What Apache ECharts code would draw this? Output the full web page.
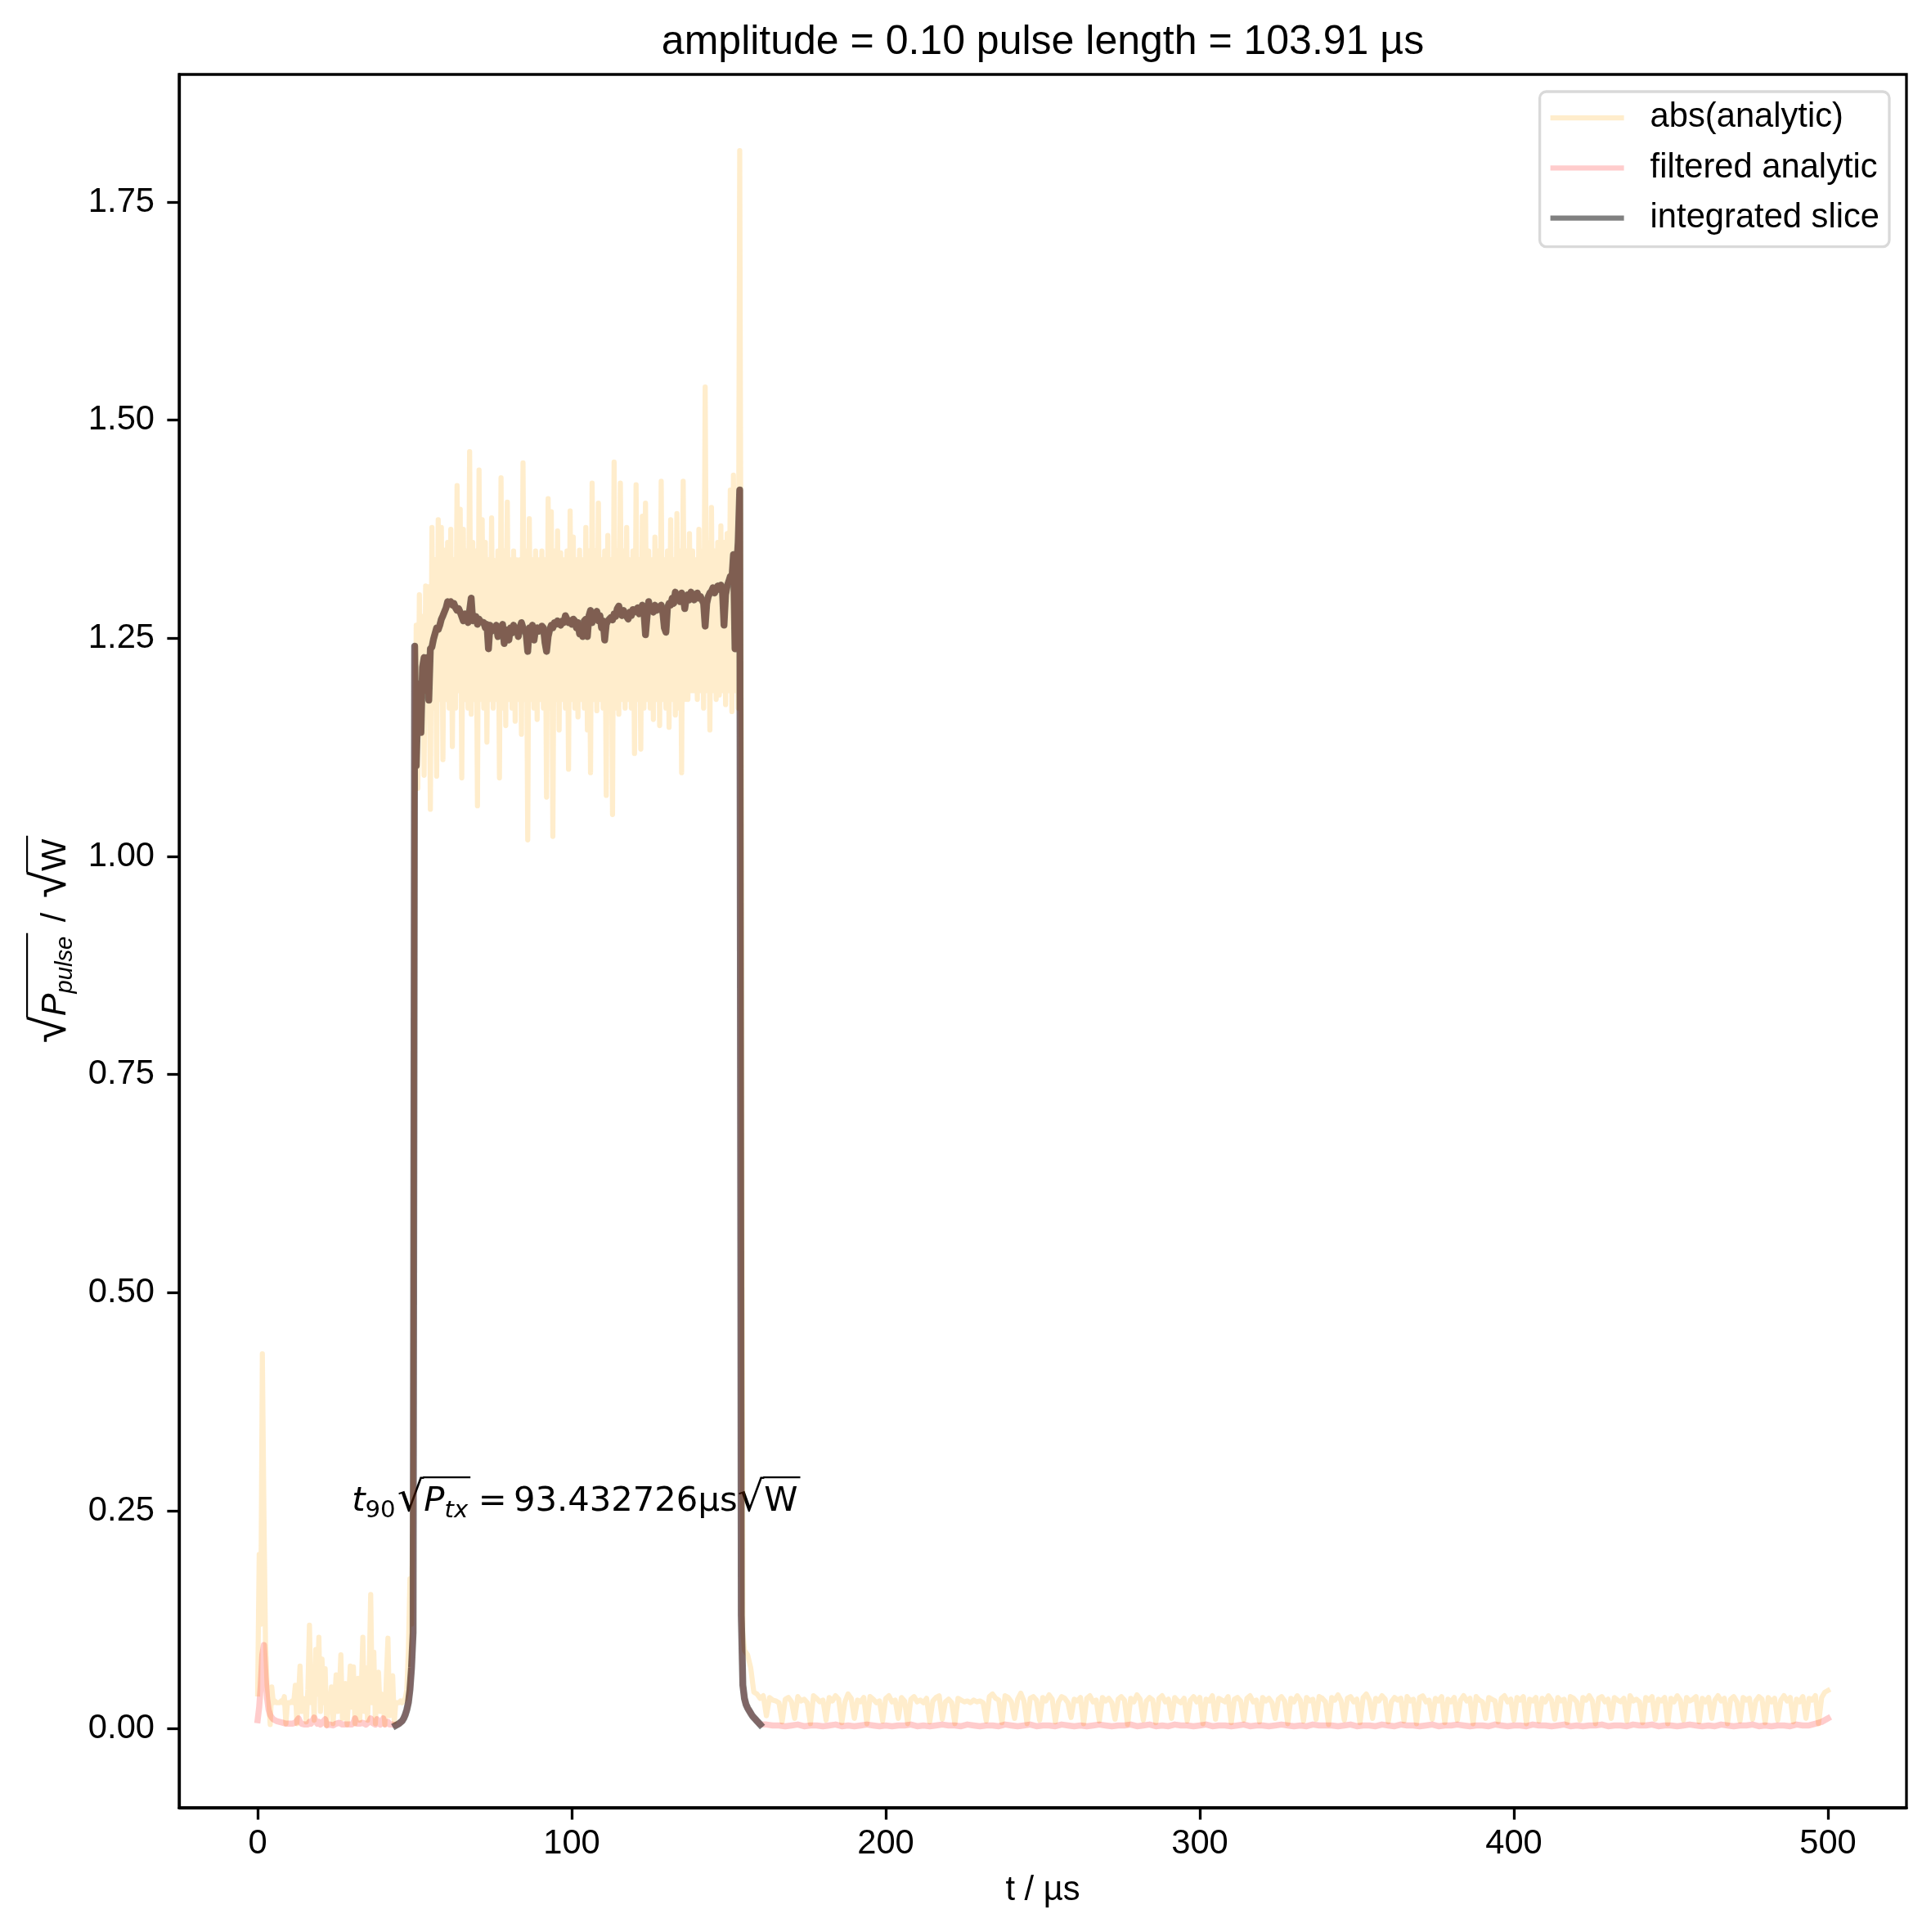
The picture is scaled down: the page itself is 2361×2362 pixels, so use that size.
<!DOCTYPE html>
<html><head><meta charset="utf-8">
<script src="https://cdn.jsdelivr.net/npm/echarts@6/dist/echarts.min.js"></script>
<style>html,body{margin:0;padding:0;background:#fff}#c{width:2361px;height:2362px}</style>
</head><body><div id="c"></div>
<script>
// ---------------- data ----------------
const xTicks = [0, 100, 200, 300, 400, 500];
const yTicks = [0, 0.25, 0.5, 0.75, 1.0, 1.25, 1.5, 1.75];

// abs(analytic), t = 0 .. 49.5 us, step 0.5
const absPreStart = 0, absPreStep = 0.5;
const absPre = [
0.04,0.20,0.12,0.43,0.25,0.10,0.05,0.035,0.005,0.048,
0.03,0.032,0.03,0.031,0.03,0.032,0.03,0.037,0.006,0.03,
0.031,0.03,0.032,0.03,0.05,0.006,0.035,0.072,0.02,0.035,
0.03,0.008,0.045,0.119,0.03,0.06,0.01,0.091,0.04,0.105,
0.02,0.08,0.03,0.069,0.004,0.035,0.03,0.048,0.006,0.03,
0.062,0.02,0.04,0.085,0.012,0.045,0.052,0.005,0.035,0.072,
0.025,0.071,0.006,0.04,0.058,0.01,0.045,0.105,0.02,0.07,
0.01,0.06,0.154,0.03,0.088,0.006,0.05,0.065,0.02,0.04,
0.03,0.005,0.06,0.104,0.015,0.05,0.061,0.008,0.03,0.031,
0.03,0.032,0.03,0.031,0.035,0.045,0.09,0.172,0.12,0.3
];
// abs(analytic), t = 50 .. 154.5 us, step 0.5
const absPulseStart = 50, absPulseStep = 0.5;
const absPulse = [
1.05,1.265,1.078,1.30,1.15,1.275,1.093,1.31,1.16,1.309,
1.054,1.377,1.17,1.34,1.092,1.386,1.18,1.377,1.111,1.351,
1.18,1.36,1.17,1.375,1.126,1.34,1.17,1.425,1.19,1.398,
1.09,1.375,1.18,1.35,1.17,1.464,1.163,1.36,1.18,1.35,
1.058,1.443,1.18,1.386,1.17,1.36,1.131,1.34,1.18,1.388,
1.17,1.339,1.18,1.35,1.09,1.434,1.17,1.35,1.15,1.406,
1.18,1.34,1.17,1.35,1.155,1.34,1.18,1.34,1.14,1.451,
1.18,1.35,1.019,1.387,1.18,1.34,1.17,1.35,1.157,1.34,
1.18,1.35,1.17,1.34,1.068,1.41,1.17,1.395,1.023,1.35,
1.18,1.373,1.145,1.348,1.18,1.34,1.17,1.35,1.10,1.396,
1.18,1.366,1.17,1.34,1.16,1.351,1.18,1.34,1.17,1.377,
1.145,1.35,1.096,1.428,1.18,1.35,1.167,1.405,1.18,1.34,
1.17,1.35,1.07,1.368,1.18,1.34,1.048,1.452,1.17,1.35,
1.163,1.428,1.18,1.35,1.17,1.377,1.18,1.34,1.17,1.35,
1.118,1.426,1.18,1.34,1.123,1.39,1.17,1.405,1.18,1.35,
1.17,1.34,1.157,1.366,1.18,1.35,1.15,1.43,1.18,1.34,
1.17,1.35,1.148,1.386,1.18,1.34,1.162,1.393,1.17,1.35,
1.096,1.43,1.18,1.35,1.18,1.37,1.19,1.35,1.19,1.34,
1.18,1.375,1.19,1.35,1.17,1.538,1.19,1.36,1.145,1.40,
1.19,1.35,1.18,1.36,1.185,1.379,1.19,1.36,1.174,1.37,
1.19,1.42,1.166,1.437,1.19,1.40,1.17,1.809,1.17,0.11
];
// abs(analytic), t = 155 .. 500 us, step 1
const absPostStart = 155, absPostStep = 1;
const absPost = [
0.09,0.085,0.07,0.042,0.04,0.035,0.038,0.015,0.036,0.033,
0.032,0.03,0.008,0.034,0.036,0.031,0.012,0.037,0.032,0.034,
0.03,0.006,0.038,0.035,0.031,0.033,0.01,0.036,0.032,0.038,
0.034,0.007,0.031,0.04,0.035,0.012,0.033,0.031,0.036,0.006,
0.037,0.034,0.03,0.032,0.009,0.035,0.038,0.031,0.033,0.012,
0.036,0.032,0.006,0.034,0.037,0.031,0.033,0.03,0.035,0.008,
0.032,0.036,0.038,0.011,0.031,0.034,0.03,0.006,0.035,0.033,
0.031,0.032,0.03,0.033,0.031,0.032,0.03,0.009,0.037,0.04,
0.035,0.033,0.007,0.038,0.036,0.031,0.012,0.034,0.041,0.032,
0.006,0.035,0.037,0.033,0.01,0.036,0.032,0.039,0.034,0.008,
0.031,0.037,0.035,0.03,0.013,0.034,0.032,0.036,0.006,0.035,
0.038,0.031,0.033,0.009,0.036,0.032,0.035,0.03,0.011,0.034,
0.037,0.033,0.005,0.035,0.031,0.039,0.034,0.01,0.032,0.036,
0.033,0.007,0.035,0.038,0.031,0.034,0.012,0.036,0.032,0.03,
0.035,0.009,0.033,0.037,0.031,0.036,0.006,0.034,0.032,0.038,
0.011,0.035,0.033,0.031,0.037,0.007,0.034,0.036,0.032,0.01,
0.035,0.038,0.031,0.033,0.008,0.036,0.032,0.035,0.03,0.012,
0.034,0.037,0.032,0.006,0.035,0.031,0.038,0.033,0.009,0.036,
0.032,0.034,0.011,0.037,0.035,0.031,0.005,0.036,0.033,0.039,
0.032,0.01,0.035,0.037,0.031,0.034,0.007,0.036,0.04,0.033,
0.012,0.035,0.032,0.038,0.034,0.008,0.031,0.036,0.033,0.035,
0.009,0.037,0.032,0.034,0.006,0.036,0.038,0.031,0.033,0.011,
0.035,0.032,0.037,0.007,0.034,0.031,0.036,0.01,0.033,0.038,
0.032,0.035,0.006,0.037,0.033,0.031,0.012,0.036,0.034,0.032,
0.008,0.035,0.038,0.031,0.034,0.01,0.036,0.033,0.037,0.006,
0.034,0.032,0.036,0.009,0.035,0.031,0.038,0.033,0.011,0.036,
0.032,0.034,0.007,0.037,0.035,0.031,0.01,0.036,0.033,0.038,
0.032,0.006,0.035,0.037,0.031,0.034,0.012,0.036,0.033,0.031,
0.035,0.009,0.038,0.032,0.034,0.031,0.007,0.036,0.033,0.037,
0.011,0.034,0.032,0.036,0.006,0.035,0.031,0.038,0.033,0.01,
0.036,0.032,0.034,0.037,0.008,0.035,0.031,0.036,0.012,0.033,
0.038,0.032,0.035,0.006,0.034,0.037,0.031,0.009,0.036,0.033,
0.035,0.011,0.032,0.037,0.034,0.007,0.036,0.031,0.035,0.01,
0.033,0.038,0.032,0.036,0.008,0.034,0.031,0.037,0.012,0.035,
0.033,0.038,0.006,0.036,0.042,0.044
];

// filtered analytic, t = 0 .. 43.5 us, step 0.5
const filtPreStart = 0, filtPreStep = 0.5;
const filtPre = [
0.01,0.025,0.05,0.085,0.096,0.06,0.035,0.022,0.016,0.013,
0.011,0.01,0.009,0.008,0.008,0.007,0.007,0.008,0.006,0.006,
0.006,0.005,0.006,0.005,0.007,0.006,0.012,0.008,0.006,0.005,
0.005,0.006,0.005,0.008,0.006,0.007,0.013,0.009,0.006,0.008,
0.005,0.007,0.006,0.011,0.004,0.005,0.005,0.006,0.004,0.005,
0.006,0.005,0.007,0.006,0.005,0.006,0.005,0.004,0.005,0.006,
0.005,0.007,0.012,0.006,0.005,0.006,0.005,0.007,0.006,0.005,
0.006,0.008,0.012,0.007,0.006,0.005,0.011,0.007,0.005,0.006,
0.012,0.005,0.006,0.008,0.005,0.004,0.005,0.004
];
// integrated slice (also the filtered analytic underneath it), t = 44 .. 160 us, step 0.5
const sliceStart = 44, sliceStep = 0.5;
const sliceVals = [
0.004,0.005,0.006,0.007,0.009,0.012,0.016,0.022,0.03,0.045,
0.07,0.11,1.241,1.104,1.17,1.198,1.142,1.217,1.228,1.19,
1.228,1.179,1.238,1.24,1.249,1.25,1.262,1.26,1.265,1.272,
1.276,1.275,1.285,1.292,1.29,1.292,1.288,1.29,1.285,1.282,
1.284,1.28,1.281,1.27,1.278,1.276,1.268,1.282,1.296,1.27,
1.273,1.275,1.266,1.272,1.269,1.27,1.268,1.262,1.266,1.238,
1.265,1.258,1.262,1.26,1.265,1.252,1.262,1.258,1.266,1.244,
1.26,1.254,1.248,1.262,1.256,1.265,1.258,1.262,1.252,1.262,
1.268,1.262,1.262,1.255,1.235,1.262,1.258,1.265,1.248,1.26,
1.262,1.258,1.26,1.264,1.262,1.245,1.235,1.252,1.26,1.265,
1.262,1.268,1.266,1.27,1.268,1.265,1.27,1.268,1.276,1.272,
1.268,1.27,1.266,1.272,1.27,1.262,1.268,1.255,1.262,1.252,
1.27,1.272,1.252,1.276,1.282,1.268,1.278,1.274,1.281,1.27,
1.276,1.262,1.27,1.248,1.266,1.27,1.272,1.274,1.271,1.278,
1.275,1.284,1.287,1.28,1.276,1.282,1.278,1.275,1.272,1.28,
1.276,1.283,1.28,1.282,1.285,1.278,1.282,1.288,1.28,1.254,
1.275,1.292,1.282,1.286,1.28,1.288,1.282,1.286,1.283,1.288,
1.28,1.262,1.257,1.285,1.29,1.288,1.296,1.29,1.303,1.296,
1.3,1.292,1.302,1.298,1.284,1.296,1.3,1.294,1.303,1.298,
1.294,1.3,1.302,1.296,1.298,1.294,1.29,1.264,1.29,1.298,
1.302,1.304,1.308,1.302,1.306,1.31,1.306,1.311,1.304,1.265,
1.3,1.31,1.315,1.321,1.318,1.346,1.238,1.33,1.36,1.42,
0.13,0.05,0.035,0.028,0.024,0.021,0.018,0.015,0.013,0.011,
0.009,0.007,0.005
];
// filtered analytic, t = 162 .. 500 us, step 2
const filtPostStart = 162, filtPostStep = 2;
const filtPost = [
0.005,0.004,0.004,0.003,0.004,0.005,0.003,0.004,0.004,0.003,
0.004,0.005,0.003,0.004,0.003,0.004,0.005,0.004,0.003,0.004,
0.003,0.004,0.004,0.005,0.003,0.004,0.003,0.004,0.005,0.004,
0.004,0.003,0.005,0.004,0.003,0.004,0.004,0.003,0.005,0.004,
0.003,0.004,0.005,0.003,0.004,0.004,0.003,0.005,0.004,0.003,
0.004,0.003,0.004,0.005,0.004,0.003,0.004,0.004,0.005,0.003,
0.004,0.005,0.003,0.004,0.003,0.005,0.004,0.004,0.003,0.004,
0.005,0.003,0.004,0.004,0.003,0.004,0.005,0.003,0.004,0.004,
0.003,0.004,0.005,0.004,0.003,0.004,0.003,0.005,0.004,0.004,
0.004,0.003,0.004,0.005,0.003,0.004,0.004,0.003,0.005,0.004,
0.003,0.005,0.004,0.004,0.003,0.004,0.005,0.003,0.004,0.004,
0.005,0.004,0.003,0.004,0.004,0.003,0.005,0.004,0.003,0.004,
0.004,0.003,0.005,0.004,0.004,0.003,0.004,0.005,0.003,0.004,
0.003,0.004,0.004,0.005,0.003,0.004,0.004,0.003,0.005,0.004,
0.004,0.005,0.003,0.004,0.004,0.003,0.004,0.005,0.004,0.003,
0.004,0.003,0.005,0.004,0.003,0.004,0.004,0.005,0.003,0.004,
0.003,0.004,0.004,0.003,0.005,0.004,0.004,0.006,0.008,0.012
];

const titleText = 'amplitude = 0.10 pulse length = 103.91 µs';
const seriesNames = ['abs(analytic)', 'filtered analytic', 'integrated slice'];
const annotationPos = [30, 0.25];

// ---------------- build ----------------
function pairs(start, step, vals) { return vals.map((v, i) => [start + i * step, v]); }
const absData = pairs(absPreStart, absPreStep, absPre)
  .concat(pairs(absPulseStart, absPulseStep, absPulse))
  .concat(pairs(absPostStart, absPostStep, absPost));
const sliceData = pairs(sliceStart, sliceStep, sliceVals);
const filtData = pairs(filtPreStart, filtPreStep, filtPre)
  .concat(sliceData)
  .concat(pairs(filtPostStart, filtPostStep, filtPost));

const F = 41.7;          // 10pt at 300 dpi
const LW = 6.25;         // 1.5pt
const AX = 3.3;          // 0.8pt
const FONT = 'Liberation Sans';

const chart = echarts.init(document.getElementById('c'), null, {renderer: 'canvas', width: 2361, height: 2362});

function lineSeries(name, data, color, z, w) {
  return {
    type: 'line', name: name, data: data, symbol: 'none', showSymbol: false,
    color: color, silent: true, animation: false, z: z, clip: true,
    lineStyle: {color: color, width: w, cap: 'square', join: 'round'}
  };
}

const option = {
  animation: false,
  backgroundColor: '#ffffff',
  title: {
    text: titleText, left: 1275, top: 27, padding: 0, textAlign: 'center',
    textStyle: {fontFamily: FONT, fontSize: 50, fontWeight: 'normal', color: '#000'}
  },
  grid: {left: 219, right: 30, top: 91, bottom: 152, show: true, borderColor: '#000', borderWidth: AX, backgroundColor: 'transparent'},
  legend: {
    orient: 'vertical', right: 51, top: 112, icon: 'rect', itemWidth: 90, itemHeight: LW,
    itemGap: 19.3, padding: [11, 12, 14, 13], backgroundColor: '#ffffff',
    borderColor: '#d9d9d9', borderWidth: AX, borderRadius: 8, selectedMode: false,
    textStyle: {fontFamily: FONT, fontSize: F, color: '#000', padding: [0, 0, 0, 27]},
    data: [
      {name: seriesNames[0], itemStyle: {color: '#ffedcc'}},
      {name: seriesNames[1], itemStyle: {color: '#ffcccc'}},
      {name: seriesNames[2], itemStyle: {color: '#808080'}}
    ]
  },
  xAxis: {
    type: 'value', min: -25, max: 525,
    splitLine: {show: false},
    axisLine: {show: true, onZero: false, lineStyle: {color: '#000', width: AX}},
    axisTick: {show: true, length: 14.6, customValues: xTicks, lineStyle: {color: '#000', width: AX}},
    axisLabel: {customValues: xTicks, margin: 24, fontFamily: FONT, fontSize: F, color: '#000'},
    name: 't / µs', nameLocation: 'middle', nameGap: 81,
    nameTextStyle: {fontFamily: FONT, fontSize: F, color: '#000'}
  },
  yAxis: {
    type: 'value', min: -0.0903, max: 1.8963,
    splitLine: {show: false},
    axisLine: {show: true, onZero: false, lineStyle: {color: '#000', width: AX}},
    axisTick: {show: true, length: 14.6, customValues: yTicks, lineStyle: {color: '#000', width: AX}},
    axisLabel: {customValues: yTicks, margin: 30, fontFamily: FONT, fontSize: F, color: '#000',
      formatter: v => Number(v).toFixed(2)}
  },
  series: [
    lineSeries(seriesNames[0], absData, 'rgba(255,165,0,0.2)', 2, LW),
    lineSeries(seriesNames[1], filtData, 'rgba(255,0,0,0.2)', 3, 7.5),
    lineSeries(seriesNames[2], sliceData, 'rgba(0,0,0,0.5)', 4, 8.5)
  ]
};
chart.setOption(option);

// ---------- math-like text (radicals with vinculum) ----------
const mc = document.createElement('canvas').getContext('2d');
function fstr(p) { return (p.italic ? 'italic ' : '') + p.size.toFixed(2) + 'px "' + p.family + '"'; }
function metrics(p) {
  mc.font = fstr(p);
  mc.textBaseline = 'alphabetic';
  const m = mc.measureText(p.text);
  mc.textBaseline = 'middle';
  const mm = mc.measureText(p.text);
  return {w: m.width, asc: m.actualBoundingBoxAscent, right: m.actualBoundingBoxRight,
          mid: m.actualBoundingBoxAscent - mm.actualBoundingBoxAscent};
}
function buildMath(pieces, barH, barW) {
  const kids = []; let x = 0; const bars = {}; let radEnd = 0;
  for (const p0 of pieces) {
    const p = Object.assign({}, p0);
    if (p.rad) {
      p.text = '\u221A';
      const k = metrics(Object.assign({}, p, {size: 100})).asc / 100;
      p.size = barH / k;
    }
    x += p.pre || 0;
    const m = metrics(p);
    kids.push({type: 'text', x: x, y: (p.dy || 0) - m.mid, silent: true,
      style: {text: p.text, font: fstr(p), fill: '#000', align: 'left', verticalAlign: 'middle'}});
    if (p.rad) radEnd = x + m.right - 1.5;
    if (p.bar) {
      if (!bars[p.bar]) bars[p.bar] = {x1: radEnd, x2: 0};
      bars[p.bar].x2 = x + m.w + (p.barExtra || 0);
    }
    x += m.w + (p.post || 0);
  }
  for (const k in bars) {
    const b = bars[k];
    kids.push({type: 'line', silent: true,
      shape: {x1: b.x1, y1: -barH + barW / 2, x2: b.x2, y2: -barH + barW / 2},
      style: {stroke: '#000', lineWidth: barW}});
  }
  return {kids: kids, width: x};
}

const DJ = 'DejaVu Sans';
const ann = buildMath([
  {text: 't', family: DJ, size: F, italic: true},
  {text: '90', family: DJ, size: 0.7 * F, dy: 0.18 * F, post: 2},
  {rad: true, family: DJ},
  {text: 'P', family: DJ, size: F, italic: true, bar: 1},
  {text: 'tx', family: DJ, size: 0.7 * F, italic: true, dy: 0.18 * F, bar: 1, barExtra: 3},
  {text: '=', family: DJ, size: F, pre: 0.3 * F, post: 0.2 * F},
  {text: '93.432726µs', family: DJ, size: F},
  {rad: true, family: DJ},
  {text: 'W', family: DJ, size: F, bar: 2, barExtra: 3}
], 42, 2.2);

const ylab = buildMath([
  {rad: true, family: FONT, size: F},
  {text: 'P', family: FONT, size: F, italic: true, bar: 1},
  {text: 'pulse', family: FONT, size: 0.7 * F, italic: true, dy: 0.18 * F, bar: 1, barExtra: 4},
  {text: ' / ', family: FONT, size: F, pre: 6, post: 6},
  {rad: true, family: FONT, size: F},
  {text: 'W', family: FONT, size: F, bar: 2, barExtra: 4}
], 48, 2.2);

const ap = chart.convertToPixel({xAxisIndex: 0, yAxisIndex: 0}, annotationPos);
const plotMidY = 91 + (2362 - 152 - 91) / 2;
chart.setOption({
  graphic: [
    {type: 'group', x: ap[0], y: ap[1], z: 100, silent: true, children: ann.kids},
    {type: 'group', x: 80, y: plotMidY + ylab.width / 2, rotation: Math.PI / 2, z: 100, silent: true, children: ylab.kids}
  ]
});
</script>
</body></html>
